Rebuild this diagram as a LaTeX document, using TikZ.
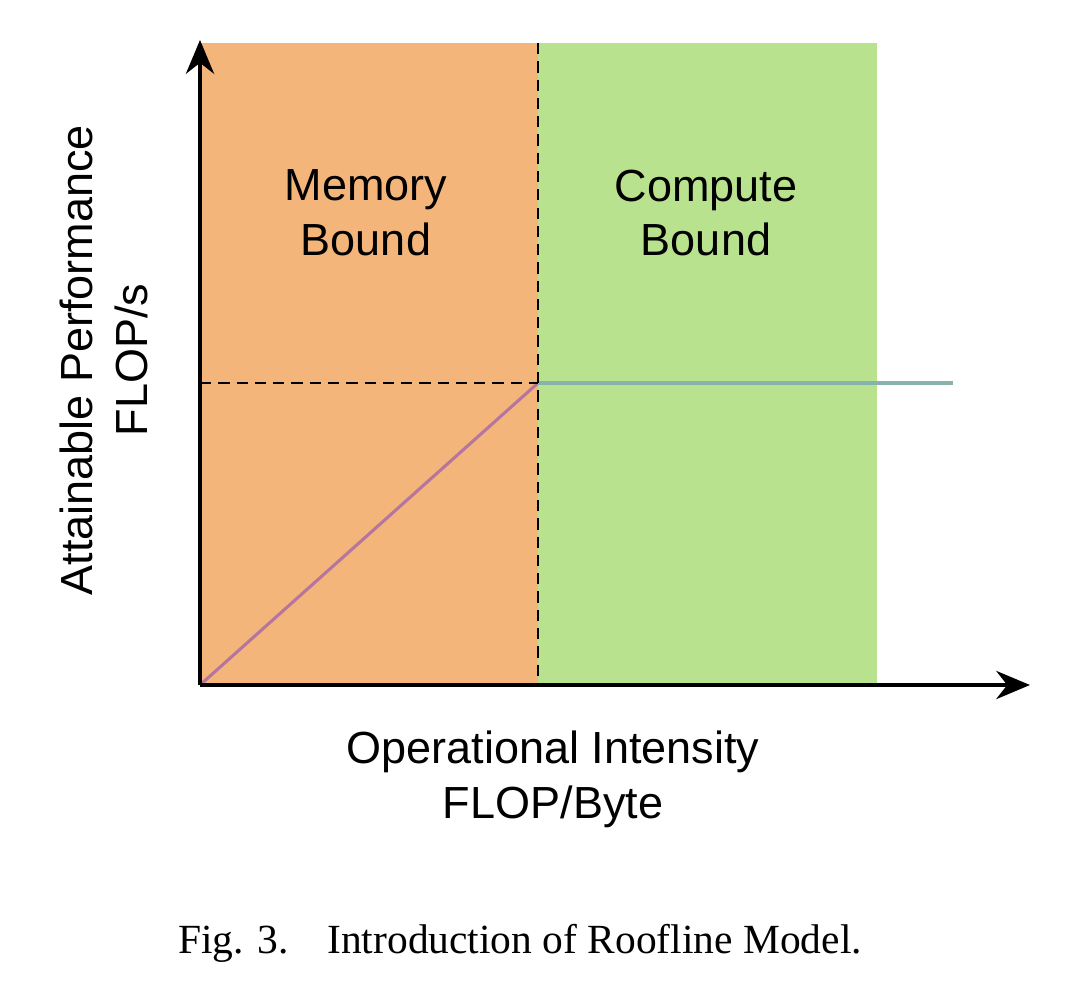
\documentclass[tikz,border=0pt]{standalone}
\usepackage{fontspec}
\setmainfont{Liberation Sans}
\newfontfamily\capfont{Liberation Serif}
\usetikzlibrary{arrows.meta}
\definecolor{orng}{HTML}{F4B57A}
\definecolor{grn}{HTML}{B9E28F}
\definecolor{roof}{HTML}{86B3AC}
\definecolor{slope}{HTML}{B6759E}
\tikzset{lbl/.style={font=\fontsize{32}{39}\selectfont,align=center},
ax/.style={line width=3pt,-{Stealth[length=24pt,width=20pt]}},
dsh/.style={line width=2pt,dash pattern=on 8pt off 5pt}}
\begin{document}
\begin{tikzpicture}[x=0.025cm,y=-0.025cm]
\useasboundingbox (0,0) rectangle (1070,992);
\fill[orng] (200,43) rectangle (538,685);
\fill[grn] (538,43) rectangle (877,685);
\coordinate (o) at (200,685);
\coordinate (k) at (538,383);
\coordinate (r) at (953,383);
\coordinate (hl) at (200,383);
\coordinate (vt) at (538,43);
\coordinate (vb) at (538,685);
\draw[slope,line width=2.2pt] (o) -- (k);
\draw[roof,line width=2.8pt] (k) -- (r);
\draw[dsh] (hl) -- (k);
\draw[dsh] (vt) -- (vb);
\coordinate (yt) at (200,40);
\coordinate (xt) at (1030,685);
\draw[ax] (o) -- (yt);
\draw[ax] (o) -- (xt);
\node[lbl] (mb) at (366,213) {Memory\\Bound};
\node[lbl] (cb) at (706,213) {Compute\\Bound};
\node[lbl,rotate=90] (yl) at (104,360) {Attainable Performance\\FLOP/s};
\node[lbl] (xl) at (553,779) {Operational Intensity\\FLOP/Byte};
\node[font=\capfont\fontsize{29.5}{34}\selectfont] (cap) at (520,943) {Fig. 3.\hspace{0.6em} Introduction of Roofline Model.};
\end{tikzpicture}
\end{document}
